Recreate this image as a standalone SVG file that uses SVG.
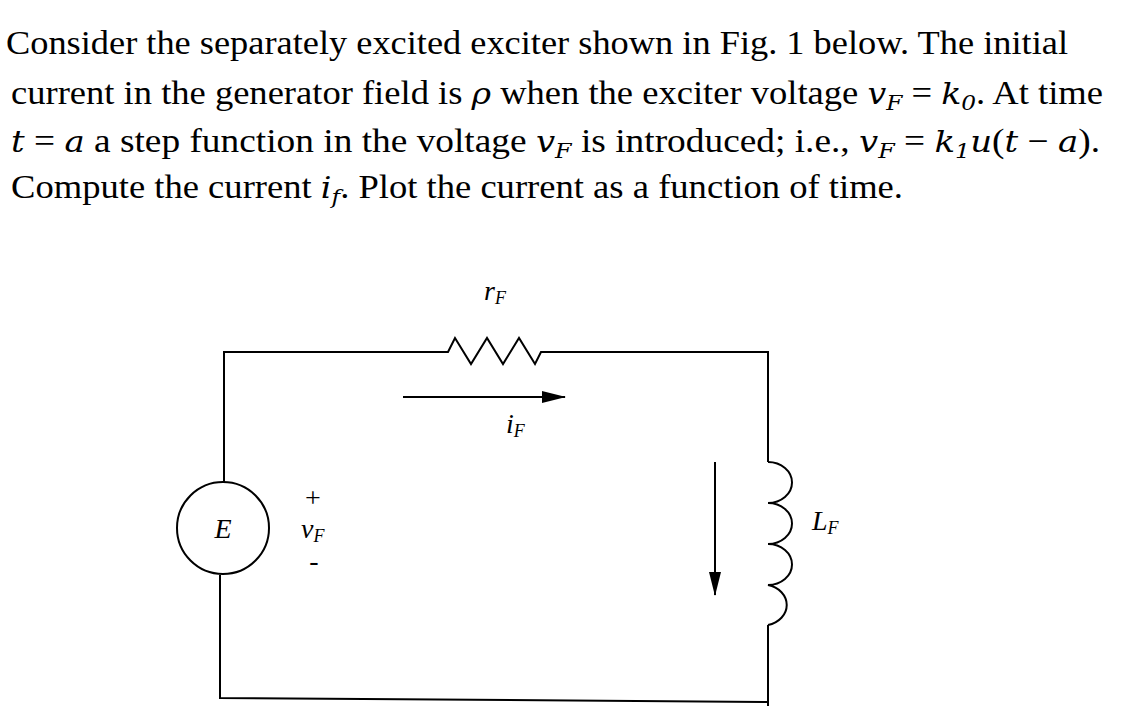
<svg xmlns="http://www.w3.org/2000/svg" width="1130" height="706" viewBox="0 0 1130 706">
<style>
.t{font-family:"Liberation Serif",serif;font-size:33px;fill:#000}
.m{font-family:"DejaVu Serif","Liberation Serif",serif;font-style:italic;font-size:30px}
.l{font-family:"Liberation Serif",serif;font-size:28px;fill:#000}
.w{fill:none;stroke:#000;stroke-width:2}
</style>
<defs><marker id="b" markerWidth="24" markerHeight="12" refX="23" refY="6" orient="auto" markerUnits="userSpaceOnUse"><path d="M0,0L24,6L0,12z" fill="#000"/></marker></defs>
<g id="text">
<text class="t" x="6" y="54" textLength="1062" lengthAdjust="spacingAndGlyphs">Consider the separately excited exciter shown in Fig. 1 below.  The initial</text>
<text class="t" x="11" y="104" textLength="1092" lengthAdjust="spacingAndGlyphs">current in the generator field is <tspan class="m">ρ</tspan> when the exciter voltage <tspan class="m">v<tspan font-size="21" dy="6">F</tspan></tspan><tspan dy="-6"> = </tspan><tspan class="m">k<tspan font-size="21" dy="6">0</tspan></tspan><tspan dy="-6">. At time</tspan></text>
<text class="t" x="11" y="152" textLength="1089" lengthAdjust="spacingAndGlyphs"><tspan class="m">t</tspan> = <tspan class="m">a</tspan> a step function in the voltage <tspan class="m">v<tspan font-size="21" dy="6">F</tspan></tspan><tspan dy="-6"> is introduced; i.e., </tspan><tspan class="m">v<tspan font-size="21" dy="6">F</tspan></tspan><tspan dy="-6"> = </tspan><tspan class="m">k<tspan font-size="21" dy="6">1</tspan></tspan><tspan class="m" dy="-6">u</tspan>(<tspan class="m">t</tspan> − <tspan class="m">a</tspan>).</text>
<text class="t" x="11" y="198" textLength="892" lengthAdjust="spacingAndGlyphs">Compute the current <tspan class="m">i<tspan font-size="21" dy="6">f</tspan></tspan><tspan dy="-6">.  Plot the current as a function of time.</tspan></text>
</g>
<g id="wires">
<path class="w" d="M224,482V352H448L455,338L471,364L487,338L503,364L519,338L535,364L541,352H768V462"/>
<path class="w" d="M768,625V706M768,702L220,698V575"/>
</g>
<g id="source"><circle class="w" cx="223" cy="528" r="46"/><text class="l" x="223" y="538" text-anchor="middle" font-style="italic">E</text></g>
<g id="inductor"><path class="w" d="M768,462A24,20.5 0 0 1 768,503A24,20.5 0 0 1 768,544A24,20.5 0 0 1 768,585A24,20.5 0 0 1 768,625"/>
<text class="l" x="812" y="530" font-style="italic">L<tspan font-size="18" dy="4">F</tspan></text></g>
<g id="labels">
<text class="l" x="484" y="300" font-style="italic">r<tspan font-size="18" dy="4">F</tspan></text>
<text class="l" x="506" y="433" font-style="italic">i<tspan font-size="18" dy="4">F</tspan></text>
<text class="l" x="313" y="507" text-anchor="middle">+</text>
<text class="l" x="301" y="538" font-style="italic">v<tspan font-size="18" dy="4">F</tspan></text>
<text class="l" x="314" y="570" text-anchor="middle">-</text>
</g>
<g id="connectors">
<line x1="403" y1="397" x2="565" y2="397" stroke="#000" stroke-width="2" marker-end="url(#b)"/>
<line x1="715" y1="462" x2="715" y2="595" stroke="#000" stroke-width="2" marker-end="url(#b)"/>
</g>
</svg>
